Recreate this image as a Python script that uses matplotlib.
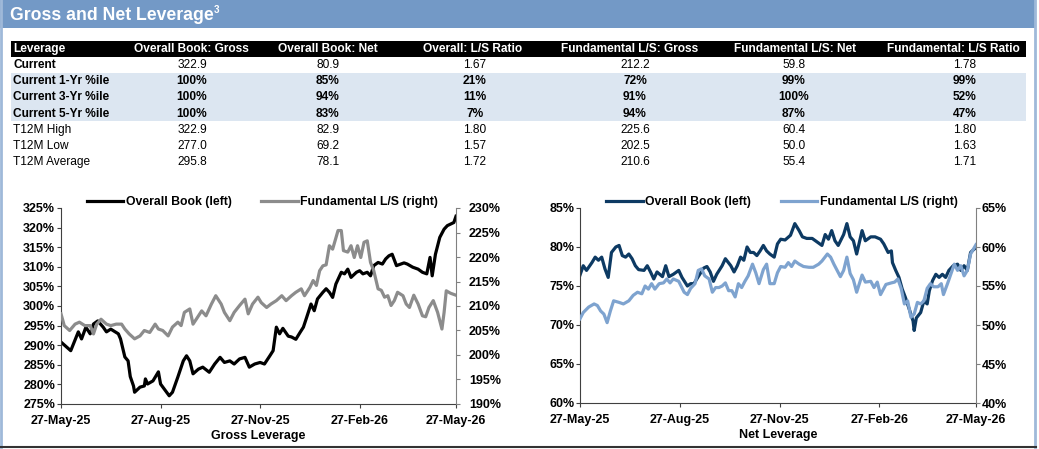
import matplotlib
matplotlib.use('Agg')
import matplotlib.pyplot as plt
import matplotlib.dates as mdates
from matplotlib.patches import Rectangle
from matplotlib.lines import Line2D
from matplotlib.ticker import FuncFormatter
import pandas as pd

plt.rcParams['font.family'] = ['Liberation Sans', 'DejaVu Sans']

W, H = 1039, 449

start = pd.Timestamp('2025-05-27')

gross_overall_days = [0, 9, 16, 19, 23, 27, 30, 34, 39, 42, 46, 53, 55, 59, 62, 64, 67, 68, 73, 77,
                      78, 80, 85, 90, 92, 100, 103, 108, 113, 116, 119, 122, 127, 131, 137, 142, 147,
                      151, 156, 160, 165, 170, 174, 179, 184, 188, 193, 196, 199, 202, 205, 210, 213,
                      217, 221, 224, 227, 231, 234, 237, 242, 245, 248, 251, 254, 259, 262, 265, 268,
                      273, 276, 279, 283, 286, 289, 293, 297, 300, 303, 306, 310, 314, 317, 320, 325,
                      330, 334, 338, 341, 343, 346, 350, 354, 357, 360, 363, 365]
gross_overall = [290.8, 288.6, 293.4, 291.6, 294.6, 292.9, 295.4, 296.2, 294.6, 293.4, 294.1, 292.9,
                 291.6, 287.0, 286.0, 282.0, 279.6, 278.0, 279.3, 279.6, 281.4, 280.1, 280.9, 283.2,
                 280.1, 277.1, 278.0, 281.9, 286.0, 287.3, 286.0, 282.7, 283.9, 284.4, 283.1, 285.2,
                 286.9, 285.6, 286.0, 285.2, 286.5, 286.9, 284.4, 285.2, 285.6, 285.2, 287.3, 288.6,
                 294.6, 292.9, 294.3, 292.3, 292.1, 291.5, 293.3, 294.6, 297.1, 300.5, 298.8, 301.8,
                 303.5, 304.4, 303.5, 302.2, 305.6, 308.6, 308.2, 309.4, 307.3, 308.6, 309.0, 308.2,
                 308.6, 307.7, 310.3, 311.1, 310.7, 312.0, 312.8, 313.2, 310.3, 310.7, 311.0, 310.7,
                 309.9, 309.4, 308.6, 308.2, 312.4, 307.7, 313.2, 317.5, 319.6, 320.5, 320.9, 321.3,
                 322.9]

gross_fund_days = [0, 3, 8, 13, 17, 22, 27, 30, 33, 37, 42, 46, 51, 56, 59, 63, 68, 73, 77, 82, 87,
                   90, 94, 99, 103, 108, 111, 114, 119, 122, 125, 130, 134, 139, 143, 148, 151, 156,
                   160, 165, 170, 173, 177, 182, 185, 190, 194, 199, 204, 208, 213, 217, 222, 225,
                   230, 233, 236, 239, 242, 245, 248, 251, 256, 259, 261, 265, 268, 271, 274, 277,
                   280, 283, 286, 289, 293, 296, 299, 302, 305, 308, 311, 316, 319, 322, 326, 330,
                   334, 337, 340, 344, 348, 352, 354, 356, 360, 365]
gross_fund = [208.4, 206.0, 205.0, 206.3, 206.7, 206.0, 206.0, 204.3, 206.3, 207.3, 206.3, 206.0,
              206.3, 206.3, 205.3, 204.3, 203.3, 203.9, 205.0, 204.6, 206.3, 205.3, 205.0, 203.9,
              205.7, 206.7, 206.0, 208.7, 209.4, 206.3, 207.3, 209.0, 208.0, 210.4, 212.1, 210.4,
              208.7, 207.0, 208.7, 210.1, 211.4, 208.4, 210.4, 211.8, 210.7, 209.7, 210.4, 211.1,
              212.1, 211.1, 212.1, 212.8, 213.5, 212.1, 213.8, 215.2, 214.2, 217.2, 218.2, 218.4,
              222.3, 221.6, 225.4, 225.4, 221.3, 221.0, 222.3, 219.9, 222.3, 219.9, 223.0, 223.3,
              218.9, 217.2, 213.5, 213.2, 211.8, 212.1, 210.1, 211.1, 212.8, 212.1, 210.4, 209.7,
              212.2, 210.4, 208.0, 207.8, 209.7, 211.1, 208.7, 205.3, 208.7, 213.1, 212.6, 212.2]

net_overall_days = [0, 3, 6, 11, 14, 17, 20, 23, 26, 29, 33, 36, 39, 42, 45, 48, 51, 54, 59, 62, 65,
                    68, 71, 76, 79, 82, 86, 91, 94, 99, 102, 105, 109, 114, 117, 120, 123, 126, 131,
                    134, 139, 142, 145, 148, 151, 154, 157, 160, 163, 166, 169, 172, 175, 179, 182,
                    185, 189, 194, 198, 202, 205, 209, 214, 218, 223, 226, 229, 232, 235, 238, 243,
                    246, 249, 252, 255, 260, 263, 268, 272, 277, 280, 284, 287, 288, 291, 294, 297,
                    300, 304, 307, 308, 310, 314, 317, 320, 322, 325, 328, 331, 334, 337, 340, 344,
                    348, 351, 354, 357, 360, 363, 365]
net_overall = [76.4, 77.6, 77.0, 78.0, 78.7, 78.3, 78.7, 77.2, 76.1, 79.3, 80.0, 80.2, 78.9, 78.7,
               79.1, 78.5, 77.6, 77.1, 77.0, 77.6, 76.8, 75.9, 76.8, 76.2, 77.6, 76.2, 76.5, 77.0,
               76.1, 75.0, 75.3, 75.3, 76.2, 77.3, 77.5, 76.8, 75.6, 76.5, 77.6, 78.5, 77.6, 76.8,
               77.6, 78.7, 78.3, 80.0, 79.3, 79.3, 78.9, 79.5, 80.2, 79.5, 79.1, 78.7, 80.4, 81.0,
               80.9, 81.5, 83.0, 82.1, 81.3, 81.1, 81.1, 80.7, 80.2, 81.6, 81.0, 82.1, 80.8, 80.2,
               81.6, 83.0, 81.3, 80.8, 79.1, 82.1, 80.8, 81.3, 81.3, 81.0, 80.4, 79.3, 79.5, 78.0,
               77.0, 76.1, 74.6, 73.5, 71.8, 70.5, 69.3, 70.9, 71.6, 73.1, 72.7, 74.4, 75.7, 76.5,
               76.1, 76.5, 76.1, 77.0, 77.6, 77.8, 77.0, 77.6, 77.0, 79.3, 79.7, 79.9]

net_fund_days = [0, 3, 8, 13, 16, 19, 22, 25, 28, 31, 36, 40, 45, 49, 53, 57, 60, 63, 66, 69, 73,
                 77, 80, 83, 86, 91, 96, 99, 102, 106, 109, 112, 115, 119, 122, 125, 128, 131, 134,
                 137, 140, 143, 146, 149, 152, 155, 159, 162, 165, 169, 172, 175, 179, 182, 185,
                 189, 192, 195, 198, 202, 206, 211, 215, 220, 223, 228, 231, 234, 237, 240, 243,
                 246, 249, 252, 255, 260, 263, 268, 271, 274, 277, 282, 287, 290, 293, 296, 299,
                 302, 305, 308, 311, 314, 317, 320, 323, 326, 330, 333, 335, 339, 342, 345, 348,
                 351, 354, 357, 360, 365]
net_fund = [50.8, 51.6, 52.3, 52.7, 52.5, 51.8, 51.4, 50.3, 51.8, 53.1, 52.9, 52.7, 53.1, 53.8,
            54.2, 54.0, 55.0, 54.6, 55.3, 54.6, 55.3, 55.4, 55.9, 55.4, 55.9, 55.6, 54.2, 53.9,
            54.7, 55.3, 57.0, 57.2, 56.3, 55.9, 54.2, 54.8, 54.8, 55.0, 55.4, 54.4, 54.4, 53.6,
            55.3, 54.8, 55.6, 56.3, 57.8, 56.7, 55.3, 57.1, 57.8, 55.3, 55.3, 56.7, 57.5, 57.4,
            58.0, 57.5, 58.2, 57.8, 57.5, 57.4, 57.4, 57.8, 58.2, 59.1, 58.7, 57.8, 57.0, 56.2,
            57.0, 58.7, 56.6, 55.8, 54.2, 56.4, 55.5, 55.6, 54.8, 55.5, 53.9, 55.2, 55.4, 55.5,
            55.9, 54.7, 52.7, 53.1, 51.0, 51.4, 52.9, 52.7, 53.1, 54.7, 55.3, 54.9, 54.9, 55.3,
            53.9, 55.4, 56.6, 57.8, 57.0, 57.6, 56.3, 57.0, 59.1, 60.3]

# summary table
table_header = ['Leverage', 'Overall Book: Gross', 'Overall Book: Net', 'Overall: L/S Ratio',
                'Fundamental L/S: Gross', 'Fundamental L/S: Net', 'Fundamental: L/S Ratio']
table_rows = [
    ['Current', '322.9', '80.9', '1.67', '212.2', '59.8', '1.78'],
    ['Current 1-Yr %ile', '100%', '85%', '21%', '72%', '99%', '99%'],
    ['Current 3-Yr %ile', '100%', '94%', '11%', '91%', '100%', '52%'],
    ['Current 5-Yr %ile', '100%', '83%', '7%', '94%', '87%', '47%'],
    ['T12M High', '322.9', '82.9', '1.80', '225.6', '60.4', '1.80'],
    ['T12M Low', '277.0', '69.2', '1.57', '202.5', '50.0', '1.63'],
    ['T12M Average', '295.8', '78.1', '1.72', '210.6', '55.4', '1.71'],
]

date_ticks = pd.to_datetime(['2025-05-27', '2025-08-27', '2025-11-27', '2026-02-27', '2026-05-27'])


def to_dates(days):
    return start + pd.to_timedelta(days, unit='D')


def fx(x):
    return x / W


def fy(y):
    return 1 - y / H


def rect(fig, x0, y0, x1, y1, color):
    fig.add_artist(Rectangle((fx(x0), fy(y1)), fx(x1) - fx(x0), fy(y0) - fy(y1),
                             transform=fig.transFigure, color=color, lw=0, zorder=0))


def line(fig, x0, y0, x1, y1, color, lw):
    fig.add_artist(Line2D([fx(x0), fx(x1)], [fy(y0), fy(y1)], transform=fig.transFigure,
                          color=color, lw=lw))


fig = plt.figure(figsize=(W / 100, H / 100), dpi=100)

# frame and title bar
rect(fig, 0, 0, 1036, 28, '#7399C6')
line(fig, 1, 0, 1, 447, '#9FB9D9', 2)
line(fig, 1035, 0, 1035, 447, '#9FB9D9', 2)
line(fig, 0, 447, 1036, 447, '#333333', 1.5)
fig.text(fx(10), fy(15), 'Gross and Net Leverage', color='white', fontsize=12.7,
         fontweight='bold', va='center', ha='left')
fig.text(fx(214), fy(10), '3', color='white', fontsize=7, fontweight='bold', va='center')

# table
rect(fig, 11, 41, 1026, 57, 'black')
rect(fig, 11, 73, 1026, 121, '#DCE6F1')
head_x = [13, 191, 328, 473, 630, 795, 953]
val_x = [13, 192, 328, 475, 635, 794, 965]
for i, h in enumerate(table_header):
    fig.text(fx(head_x[i]), fy(49), h, color='white', fontsize=8.6, fontweight='bold',
             va='center', ha='left' if i == 0 else 'center')
for r, row in enumerate(table_rows):
    yc = 65 + r * 16.2
    for i, v in enumerate(row):
        bold = (1 <= r <= 3) or (r == 0 and i == 0)
        fig.text(fx(val_x[i]), fy(yc), v, color='black', fontsize=8.6,
                 fontweight='bold' if bold else 'normal',
                 va='center', ha='left' if i == 0 else 'center')


def pct(v, pos):
    return '{:.0f}%'.format(v)


def draw_chart(rect_px, left_series, right_series, c_left, c_right, lticks, rticks, xlabel, rpad):
    x0, y0, x1, y1 = rect_px
    ax = fig.add_axes([fx(x0), fy(y1), fx(x1) - fx(x0), fy(y0) - fy(y1)])
    ax2 = ax.twinx()
    l1, = ax.plot(to_dates(left_series[0]), left_series[1], color=c_left, lw=2.3)
    l2, = ax2.plot(to_dates(right_series[0]), right_series[1], color=c_right, lw=2.3)
    ax.set_ylim(lticks[0], lticks[-1])
    ax2.set_ylim(rticks[0], rticks[-1])
    ax.set_yticks(lticks)
    ax2.set_yticks(rticks)
    ax.yaxis.set_major_formatter(FuncFormatter(pct))
    ax2.yaxis.set_major_formatter(FuncFormatter(pct))
    ax.set_xlim(date_ticks[0], date_ticks[-1])
    ax.set_xticks(date_ticks)
    ax.xaxis.set_major_formatter(mdates.DateFormatter('%d-%b-%y'))
    for a in (ax, ax2):
        a.spines['top'].set_visible(False)
        a.tick_params(labelsize=9, length=3.2, width=0.8, colors='#404040', labelcolor='black')
        for lab in a.get_xticklabels() + a.get_yticklabels():
            lab.set_fontweight('bold')
    ax.tick_params(axis='y', pad=1)
    ax.tick_params(axis='x', pad=5)
    ax2.tick_params(axis='y', pad=rpad, color='#808080')
    ax.spines['left'].set_color('#404040')
    ax.spines['bottom'].set_color('#404040')
    ax.spines['right'].set_visible(False)
    ax2.spines['left'].set_visible(False)
    ax2.spines['bottom'].set_visible(False)
    ax2.spines['right'].set_color('#808080')
    ax.set_xlabel(xlabel, fontsize=9, fontweight='bold', labelpad=2)
    ax.legend([l1, l2], ['Overall Book (left)', 'Fundamental L/S (right)'], loc='center',
              bbox_to_anchor=(0.51, 1 + 6 / (y1 - y0)), ncol=2, frameon=False,
              handlelength=3, handletextpad=0.2, columnspacing=2.4,
              prop={'size': 8.8, 'weight': 'bold'})
    return ax, ax2


draw_chart((61, 208, 456, 404), (gross_overall_days, gross_overall),
           (gross_fund_days, gross_fund), 'black', '#8C8C8C',
           list(range(275, 330, 5)), list(range(190, 235, 5)), 'Gross Leverage', 6)
draw_chart((580, 208, 976, 403), (net_overall_days, net_overall),
           (net_fund_days, net_fund), '#0D3A63', '#7EA3CF',
           list(range(60, 90, 5)), list(range(40, 70, 5)), 'Net Leverage', 1)

fig.savefig('out.png', dpi=100)
